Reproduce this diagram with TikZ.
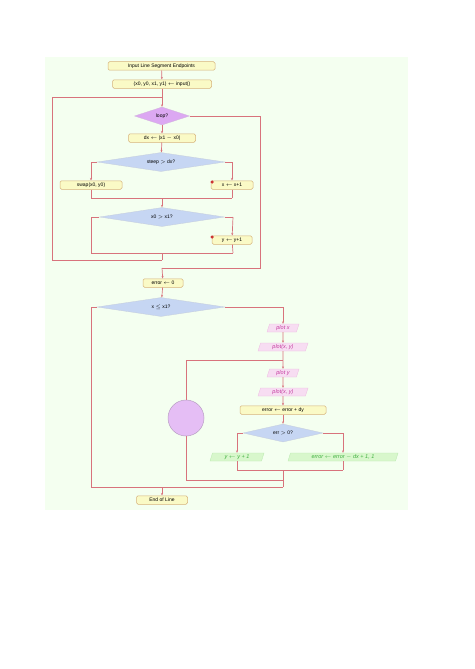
\documentclass[tikz,border=0pt]{standalone}
\usepackage{fontspec}
\setmainfont{Liberation Sans}
\usetikzlibrary{shapes.geometric,arrows.meta}
\definecolor{bg}{HTML}{F4FFF0}
\definecolor{lncol}{HTML}{D8737C}
\definecolor{boxfill}{HTML}{FAFAC6}
\definecolor{boxdraw}{HTML}{D6B27A}
\definecolor{blued}{HTML}{C6D6F3}
\definecolor{purpd}{HTML}{DCA8F2}
\definecolor{pinkf}{HTML}{F7DDF2}
\definecolor{pinkt}{HTML}{C43A9E}
\definecolor{greenf}{HTML}{D8F7CC}
\definecolor{greent}{HTML}{3DAF3D}
\tikzset{
  ln/.style={draw=lncol, line width=0.7pt},
  arr/.style={ln, -{Stealth[length=2.5pt,width=2pt]}},
  actbox/.style={draw=boxdraw, fill=boxfill, rounded corners=1.5pt, line width=0.5pt,
     minimum height=8.5pt, inner sep=1pt},
  bluedia/.style={diamond, aspect=6, inner sep=0pt, fill=blued, draw=blued!80!black!60,
     line width=0.3pt, minimum height=19pt},
  purpdia/.style={diamond, aspect=3, inner sep=0pt, fill=purpd, draw=purpd!80!black!60,
     line width=0.3pt, minimum height=18pt, minimum width=55pt},
  pinkpar/.style={trapezium, trapezium left angle=70, trapezium right angle=110,
     trapezium stretches body, fill=pinkf, draw=pinkf!80!pinkt, line width=0.3pt,
     text=pinkt, font=\fontsize{5.5}{6}\selectfont\itshape, minimum height=8pt, inner sep=1pt},
  greenpar/.style={trapezium, trapezium left angle=70, trapezium right angle=110,
     trapezium stretches body, fill=greenf, draw=greenf!80!greent, line width=0.3pt,
     text=greent, font=\fontsize{5.5}{6}\selectfont\itshape, minimum height=8pt, inner sep=1pt},
  reddot/.style={circle, fill=red!75!black!80, inner sep=0pt, minimum size=3.5pt},
  conncirc/.style={circle, fill=purpd!75, draw=purpd!70!black!70, line width=0.5pt, minimum size=36pt}
}
\begin{document}
\begin{tikzpicture}[x=1pt,y=-1pt, font=\fontsize{5}{6}\selectfont]
\useasboundingbox (0,0) rectangle (474,669);
\fill[bg] (45,57) rectangle (408,510);

% nodes
\node[actbox, minimum width=107pt] (n1) at (161.5,66) {Input Line Segment Endpoints};
\node[actbox, minimum width=99pt] (n2) at (162,84) {(x0, y0, x1, y1) $\leftarrow$ input()};
\node[purpdia] (d1) at (162,116) {loop?};
\node[actbox, minimum width=67pt] (n3) at (162,138) {dx $\leftarrow$ |x1 $-$ x0|};
\node[bluedia, minimum width=128pt] (d2) at (161,162) {steep $>$ dx?};
\node[actbox, minimum width=62pt] (nL) at (91,185) {swap(x0, y0)};
\node[actbox, minimum width=42pt] (nR) at (232,185) {x $\leftarrow$ x+1};
\node[reddot] (r1) at (212,182) {};
\node[bluedia, minimum width=125pt] (d3) at (162,217) {x0 $>$ x1?};
\node[actbox, minimum width=40pt] (nR2) at (232,240) {y $\leftarrow$ y+1};
\node[reddot] (r2) at (212,237) {};
\node[actbox, minimum width=40pt] (n4) at (163,283) {error $\leftarrow$ 0};
\node[bluedia, minimum width=128pt] (d4) at (161,307) {x $\leq$ x1?};
\node[pinkpar, minimum width=32pt] (p1) at (283,328) {plot x};
\node[pinkpar, minimum width=50pt] (p2) at (283,347) {plot(x, y)};
\node[pinkpar, minimum width=32pt] (p3) at (283,373) {plot y};
\node[pinkpar, minimum width=50pt] (p4) at (283,392) {plot(x, y)};
\node[actbox, minimum width=86pt] (n5) at (283,410) {error $\leftarrow$ error + dy};
\node[bluedia, minimum width=80pt, minimum height=18pt] (d5) at (283,433) {err $>$ 0?};
\node[greenpar, minimum width=54pt] (g1) at (237,457) {y $\leftarrow$ y + 1};
\node[greenpar, minimum width=110pt] (g2) at (343,457) {error $\leftarrow$ error $-$ dx + 1, 1};
\node[conncirc] (circ) at (186,418) {};
\node[actbox, minimum width=51pt] (nend) at (162,500) {End of Line};

% coordinates
\coordinate (lt) at (162,97);
\coordinate (ll) at (52,97);
\coordinate (lb) at (52,260);
\coordinate (lbr) at (162,260);
\coordinate (re1) at (260,116);
\coordinate (re2) at (260,268);
\coordinate (re3) at (162,268);
\coordinate (a1) at (91,162);
\coordinate (a2) at (232,162);
\coordinate (m1l) at (91,198);
\coordinate (m1r) at (232,198);
\coordinate (m1c) at (162,198);
\coordinate (b1) at (91,217);
\coordinate (b2) at (233,217);
\coordinate (m2l) at (91,253);
\coordinate (m2r) at (233,253);
\coordinate (m2c) at (162,253);
\coordinate (c1) at (91,307);
\coordinate (c2) at (283,307);
\coordinate (c3) at (91,487);
\coordinate (c4) at (283,487);
\coordinate (c5) at (162,487);
\coordinate (e1) at (237,433);
\coordinate (e2) at (343,433);
\coordinate (m3l) at (237,470);
\coordinate (m3r) at (343,470);
\coordinate (m3c) at (283,470);
\coordinate (q1) at (283,480);
\coordinate (q2) at (186,480);
\coordinate (q3) at (186,360);
\coordinate (q4) at (283,360);

% connectors
\draw[arr] (n1) -- (n2);
\draw[arr] (n2) -- (d1);
\draw[ln] (lbr) -- (lb) -- (ll) -- (lt);
\draw[ln] (d1.east) -- (re1) -- (re2) -- (re3);
\draw[arr] (re3) -- (n4);
\draw[arr] (d1) -- (n3);
\draw[arr] (n3) -- (d2);
\draw[ln] (d2.west) -- (a1);
\draw[arr] (a1) -- (nL);
\draw[ln] (nL) -- (m1l) -- (m1r);
\draw[ln] (d2.east) -- (a2);
\draw[arr] (a2) -- (nR);
\draw[ln] (nR) -- (m1r);
\draw[arr] (m1c) -- (d3);
\draw[ln] (d3.west) -- (b1) -- (m2l) -- (m2r);
\draw[ln] (d3.east) -- (b2);
\draw[arr] (b2) -- (nR2);
\draw[ln] (nR2) -- (m2r);
\draw[ln] (m2c) -- (lbr);
\draw[arr] (n4) -- (d4);
\draw[ln] (d4.west) -- (c1) -- (c3) -- (c4);
\draw[ln] (d4.east) -- (c2);
\draw[arr] (c2) -- (p1);
\draw[arr] (p1) -- (p2);
\draw[arr] (p2) -- (p3);
\draw[arr] (p3) -- (p4);
\draw[arr] (p4) -- (n5);
\draw[arr] (n5) -- (d5);
\draw[ln] (d5.west) -- (e1);
\draw[arr] (e1) -- (g1);
\draw[ln] (g1) -- (m3l) -- (m3r);
\draw[ln] (d5.east) -- (e2);
\draw[arr] (e2) -- (g2);
\draw[ln] (g2) -- (m3r);
\draw[ln] (m3c) -- (q1) -- (q2) -- (circ);
\draw[ln] (circ) -- (q3) -- (q4);
\draw[ln] (q1) -- (c4);
\draw[arr] (c5) -- (nend);
\end{tikzpicture}
\end{document}
